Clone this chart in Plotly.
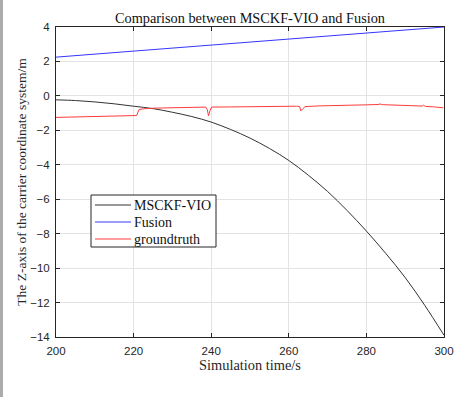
import plotly.graph_objects as go

# ---- data ----
t_vio = [200, 205, 210, 215, 220, 225, 230, 235, 240, 245, 250, 255, 260,
         265, 270, 275, 280, 285, 290, 295, 300]
z_vio = [-0.23, -0.27, -0.35, -0.46, -0.60, -0.74, -0.95, -1.20, -1.52, -1.95,
         -2.45, -3.05, -3.75, -4.60, -5.55, -6.65, -7.85, -9.15, -10.55, -12.15, -13.9]

t_fus = [200, 220, 240, 260, 280, 300]
z_fus = [2.25, 2.60, 2.95, 3.30, 3.65, 4.00]

t_gt = [200, 205, 210, 215, 220.8, 221.4, 223, 225.5, 230, 235, 238.6, 239.0, 239.3,
        239.7, 240.1, 245, 250.4, 254, 258.6, 262.0, 262.8, 263.1, 263.6, 264.2,
        268, 271.5, 276, 280, 283.0, 283.5, 284.2, 288.7, 292, 294.4, 294.7,
        295.2, 297.5, 299.8]
z_gt = [-1.25, -1.23, -1.20, -1.17, -1.14, -0.79, -0.74, -0.71, -0.70, -0.68, -0.65,
        -0.80, -1.16, -0.85, -0.65, -0.64, -0.62, -0.64, -0.58, -0.60, -0.62, -0.87,
        -0.75, -0.62, -0.58, -0.55, -0.54, -0.52, -0.50, -0.47, -0.51, -0.54, -0.57,
        -0.59, -0.54, -0.61, -0.64, -0.69]

series_names = ["MSCKF-VIO", "Fusion", "groundtruth"]
series_colors = ["#333333", "#3535ff", "#ff3b3b"]

x_ticks = [200, 220, 240, 260, 280, 300]
y_ticks = [4, 2, 0, -2, -4, -6, -8, -10, -12, -14]

serif = "Liberation Serif"
sans = "Liberation Sans"

fig = go.Figure()
fig.add_trace(go.Scatter(x=t_vio, y=z_vio, mode="lines", name=series_names[0],
                         line=dict(color=series_colors[0], width=1, shape="spline")))
fig.add_trace(go.Scatter(x=t_fus, y=z_fus, mode="lines", name=series_names[1],
                         line=dict(color=series_colors[1], width=1)))
fig.add_trace(go.Scatter(x=t_gt, y=z_gt, mode="lines", name=series_names[2],
                         line=dict(color=series_colors[2], width=1)))

axis_common = dict(
    showline=True, linecolor="#262626", linewidth=1, mirror="ticks",
    ticks="inside", ticklen=4, tickcolor="#262626",
    showgrid=True, gridcolor="#e3e3e3", gridwidth=1, zeroline=False,
    tickfont=dict(family=sans, size=11.5, color="#262626"),
    ticklabelstandoff=3,
)

# ---- compact boxed legend (MATLAB style) drawn in paper coordinates ----
W, H = 474, 397
L, R, T, B = 56, 30, 27, 60
pw, ph = W - L - R, H - T - B


def px(x):
    return (x - L) / pw


def py(y):
    return (H - B - y) / ph


shapes = [
    # thin grey frame strip on the left edge of the picture
    dict(type="line", xref="paper", yref="paper", x0=px(1.5), x1=px(1.5),
         y0=py(H), y1=py(0), line=dict(color="#ababab", width=3)),
    # legend box
    dict(type="rect", xref="paper", yref="paper", x0=px(91), x1=px(216),
         y0=py(247), y1=py(195), line=dict(color="#262626", width=1),
         fillcolor="white", layer="above"),
]
annotations = []
row_y = [205, 222, 239]
for name, col, ry in zip(series_names, series_colors, row_y):
    shapes.append(dict(type="line", xref="paper", yref="paper", x0=px(95), x1=px(131),
                       y0=py(ry), y1=py(ry), line=dict(color=col, width=1), layer="above"))
    annotations.append(dict(text=name, xref="paper", yref="paper", x=px(132), y=py(ry),
                            xanchor="left", yanchor="middle", showarrow=False,
                            font=dict(family=serif, size=14, color="#111")))

fig.update_layout(
    width=W, height=H,
    margin=dict(l=L, r=R, t=T, b=B, autoexpand=False),
    paper_bgcolor="white", plot_bgcolor="white",
    title=dict(text="Comparison between MSCKF-VIO and Fusion",
               font=dict(family=serif, size=14.3, color="#111"),
               x=0.5, xref="paper", xanchor="center", y=1 - 18 / H, yanchor="middle"),
    xaxis=dict(range=[200, 300], tickvals=x_ticks,
               title=dict(text="Simulation time/s",
                          font=dict(family=serif, size=14.4, color="#262626"), standoff=3),
               **axis_common),
    yaxis=dict(range=[-14, 4], tickvals=y_ticks,
               title=dict(text="The Z-axis of the carrier coordinate system/m",
                          font=dict(family=serif, size=13.5, color="#262626"), standoff=0),
               **axis_common),
    showlegend=False,
    shapes=shapes,
    annotations=annotations,
)

fig.write_html("out.html", config={"displayModeBar": False},
               post_script="document.body.style.margin='0';document.body.style.overflow='hidden';")
